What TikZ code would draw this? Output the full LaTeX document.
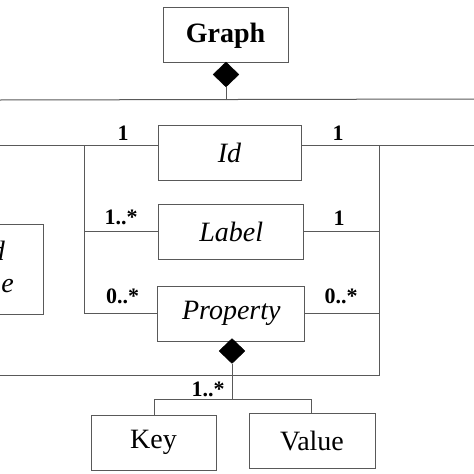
\documentclass[tikz,border=0pt]{standalone}
\usepackage{fontspec}
\setmainfont{Liberation Serif}
\usetikzlibrary{shapes.geometric}
\begin{document}
\begin{tikzpicture}[x=1pt,y=-1pt,
  box/.style={draw=gray!70!black, line width=1pt, inner sep=0pt, rectangle},
  conn/.style={draw=gray!70!black, line width=1pt},
  mult/.style={font=\fontsize{22}{23}\selectfont\bfseries, inner sep=0pt},
  cls/.style={font=\fontsize{28}{30}\selectfont\itshape},
  plain/.style={font=\fontsize{28}{30}\selectfont},
  dia/.style={diamond, fill=black, draw=black, minimum width=26pt, minimum height=25pt, inner sep=0pt}]
\useasboundingbox (0,0) rectangle (474,474);
\clip (0,0) rectangle (474,474);
% boxes
\node[box, minimum width=125pt, minimum height=55pt, font=\fontsize{28}{30}\selectfont\bfseries] (graph) at (225.5,35.3) {Graph};
\node[box, cls, minimum width=143pt, minimum height=55pt] (id) at (229.5,152.5) {Id};
\node[box, cls, minimum width=145pt, minimum height=55pt] (label) at (231.3,231.5) {Label};
\node[box, cls, minimum width=147pt, minimum height=55pt] (property) at (231.3,313.5) {Property};
\node[box, plain, minimum width=125pt, minimum height=55pt] (key) at (153.5,442.5) {Key};
\node[box, plain, minimum width=126pt, minimum height=55pt] (value) at (312,440.5) {Value};
\node[box, minimum width=103pt, minimum height=90pt] (leftbox) at (-8.5,269) {};
\node[cls, anchor=base east, inner sep=0pt] (lt1) at (5,260) {d};
\node[cls, anchor=base east, inner sep=0pt] (lt2) at (14,292) {e};
% diamonds
\node[dia] (d1) at (226,74.5) {};
\node[dia] (d2) at (232,351) {};
% junction coordinates
\coordinate (tbL) at (0,100);
\coordinate (tbR) at (474,99);
\coordinate (tbM) at (226,99.5);
\coordinate (idL) at (0,145);
\coordinate (idR) at (474,145);
\coordinate (jL) at (84,145);
\coordinate (jR) at (379,145);
\coordinate (bbL) at (0,375.5);
\coordinate (bbR) at (379,375.5);
\coordinate (kv) at (232,399);
\coordinate (kvL) at (154,399);
\coordinate (kvR) at (311,399);
% connectors
\draw[conn] (tbL) -- (tbR);
\draw[conn] (d1.south) -- (tbM);
\draw[conn] (idL) -- (id.west |- jL);
\draw[conn] (id.east |- jR) -- (idR);
\draw[conn] (jL) -- (jL |- property.west) -- (property.west);
\draw[conn] (jL |- label.west) -- (label.west);
\draw[conn] (jR) -- (bbR) -- (bbL);
\draw[conn] (label.east) -- (jR |- label.east);
\draw[conn] (property.east) -- (jR |- property.east);
\draw[conn] (d2.south) -- (kv);
\draw[conn] (kvL) -- (kvR);
\draw[conn] (kvL) -- (kvL |- key.north);
\draw[conn] (kvR) -- (kvR |- value.north);
% multiplicities
\node[mult] (m1) at (123,133) {1};
\node[mult] (m2) at (338,133) {1};
\node[mult] (m3) at (121,217) {1..*};
\node[mult] (m4) at (339,218) {1};
\node[mult] (m5) at (122.5,296) {0..*};
\node[mult] (m6) at (341,296) {0..*};
\node[mult] (m7) at (208,389) {1..*};
\end{tikzpicture}
\end{document}
